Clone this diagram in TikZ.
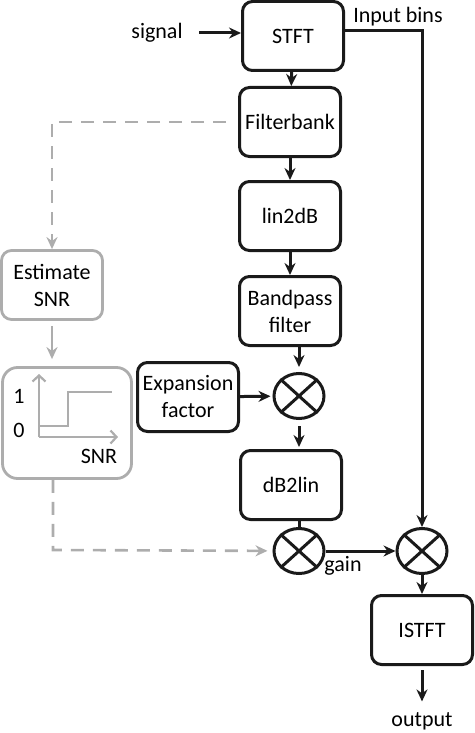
\documentclass[tikz,border=0pt]{standalone}
\usepackage{fontspec}
\setmainfont{Carlito}
\usetikzlibrary{arrows.meta,shapes.geometric}
\definecolor{ink}{HTML}{1A1A1A}
\definecolor{soft}{HTML}{ADADAD}

\begin{document}
\begin{tikzpicture}[x=1pt, y=-1pt, line width=3pt, draw=ink,
  >={Stealth[length=12pt,width=11pt]},
  font=\fontsize{22}{27}\selectfont,
  block/.style={draw=ink, rounded corners=10pt, minimum width=101pt, minimum height=69pt, align=center, inner sep=2pt},
  gblock/.style={block, draw=soft, line width=2.8pt},
  mult/.style={draw=ink, ellipse, minimum width=50pt, minimum height=45pt, inner sep=0pt},
  gline/.style={draw=soft, line width=2.6pt},
  gdash/.style={gline, dash pattern=on 13pt off 9pt},
  axis/.style={draw=soft, line width=2.2pt}]
  \useasboundingbox (0,0) rectangle (474,733);

  % main chain
  \node[block] (stft) at (293,36) {STFT};
  \node[block] (fbank) at (290,122) {Filterbank};
  \node[block] (lin2db) at (290,216) {lin2dB};
  \node[block] (bpf) at (290,311) {Bandpass\\filter};
  \node[mult] (m1) at (299,396) {};
  \node[block] (expf) at (188,397) {Expansion\\factor};
  \node[block] (db2lin) at (291,485) {dB2lin};
  \node[mult] (m2) at (299,551) {};
  \node[mult] (m3) at (422,551) {};
  \node[block] (istft) at (422,630) {ISTFT};

  \foreach \m in {m1,m2,m3}
    \draw (\m.north west) -- (\m.south east) (\m.north east) -- (\m.south west);

  % labels
  \node (signal) at (157,33) {signal};
  \node (bins) at (398,17) {Input bins};
  \node (gain) at (343,566) {gain};
  \node (out) at (422,721) {output};

  % gray side branch
  \node[gblock] (snr) at (52,285) {Estimate\\SNR};
  \node[gblock, minimum width=129pt, minimum height=111pt, rounded corners=15pt] (curve) at (67,423) {};
  \draw[axis, -{Straight Barb[length=6pt,width=13pt]}] (39,437) -- (39,374);
  \draw[axis, -{Straight Barb[length=6pt,width=13pt]}] (39,437) -- (118,437);
  \draw[axis] (39,426) -- (68,426) -- (68,392) -- (112,392);
  \node (one) at (19,396) {1};
  \node (zero) at (19,430) {0};
  \node (snrax) at (99,456) {SNR};

  \coordinate (binturn) at (422,31);
  \coordinate (tapL) at (52,122);
  \coordinate (tapB) at (53,550);

  % connectors
  \draw[->, shorten <=12pt] (signal.east) -- (stft.west |- signal.east);
  \draw[->] (stft) -- (fbank);
  \draw[->] (fbank) -- (lin2db);
  \draw[->] (lin2db) -- (bpf);
  \draw[->, shorten >=5pt] (bpf.south -| m1) -- (m1);
  \draw[->, shorten >=2pt] (expf) -- (m1);
  \draw[->, shorten <=6pt, shorten >=2pt] (m1) -- (db2lin.north -| m1);
  \draw (db2lin.south -| m2) -- (m2);
  \draw[->] (m2) -- (m3);
  \draw[->] (stft.east |- binturn) -- (binturn) -- (m3);
  \draw[->] (m3) -- (istft);
  \draw[->, shorten <=4pt, shorten >=6pt] (istft) -- (out);

  \draw[gdash, ->] ([xshift=-12pt]fbank.west) -- (tapL) -- (snr);
  \draw[gline, ->, shorten <=5pt, shorten >=7pt] (snr) -- (curve.north -| snr);
  \draw[gdash, ->, shorten >=5pt] (curve.south -| tapB) -- (tapB) -- (m2);
\end{tikzpicture}
\end{document}
